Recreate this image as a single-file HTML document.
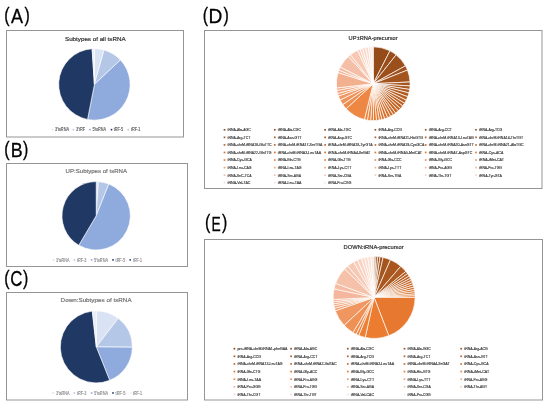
<!DOCTYPE html>
<html lang="en"><head><meta charset="utf-8"><title>tsRNA subtypes and tRNA precursors</title>
<style>html,body{margin:0;padding:0;background:#fff}body{width:550px;height:406px;overflow:hidden}svg{display:block}</style>
</head><body>
<svg width="550" height="406" viewBox="0 0 550 406" font-family="'Liberation Sans', sans-serif">
<rect width="550" height="406" fill="#fff"/>
<g fill="#000" stroke="#000" stroke-width="0.3"><text x="4.30" y="21.60" font-size="19.7" textLength="5.3" lengthAdjust="spacingAndGlyphs">(</text><text x="11.00" y="23.05" font-size="20.8" textLength="12.0" lengthAdjust="spacingAndGlyphs">A</text><text x="24.50" y="21.60" font-size="19.7" textLength="5.3" lengthAdjust="spacingAndGlyphs">)</text></g>
<rect x="6.5" y="30.5" width="177.0" height="106.5" fill="#fff" stroke="#959595" stroke-width="1"/>
<text x="65" y="40.5" font-size="5.9" fill="#333" stroke="#333" stroke-width="0.2" textLength="60.6" lengthAdjust="spacingAndGlyphs">Subtypes of all tsRNA</text>
<g stroke="#fff" stroke-width="0.6" stroke-linejoin="round"><path d="M94.40 84.40L94.40 48.70A35.7 35.7 0 0 1 104.06 50.03Z" fill="#dae3f3"/><path d="M94.40 84.40L104.06 50.03A35.7 35.7 0 0 1 120.42 59.96Z" fill="#b4c7e7"/><path d="M94.40 84.40L120.42 59.96A35.7 35.7 0 0 1 87.53 119.43Z" fill="#8faadc"/><path d="M94.40 84.40L87.53 119.43A35.7 35.7 0 0 1 92.10 48.77Z" fill="#203864"/><path d="M94.40 84.40L92.10 48.77A35.7 35.7 0 0 1 94.40 48.70Z" fill="#e8eef8"/></g>
<rect x="51.80" y="128.85" width="1.6" height="1.6" fill="#dae3f3"/><text x="55.0" y="131.31" font-size="4.6" fill="#595959" stroke="#595959" stroke-width="0.14" textLength="14.0" lengthAdjust="spacingAndGlyphs">3'tsRNA</text>
<rect x="72.60" y="128.85" width="1.6" height="1.6" fill="#b4c7e7"/><text x="76.0" y="131.31" font-size="4.6" fill="#595959" stroke="#595959" stroke-width="0.14" textLength="9.0" lengthAdjust="spacingAndGlyphs">3'tRF</text>
<rect x="89.20" y="128.85" width="1.6" height="1.6" fill="#8faadc"/><text x="92.4" y="131.31" font-size="4.6" fill="#595959" stroke="#595959" stroke-width="0.14" textLength="13.6" lengthAdjust="spacingAndGlyphs">5'tsRNA</text>
<rect x="110.70" y="128.85" width="1.6" height="1.6" fill="#203864"/><text x="113.7" y="131.31" font-size="4.6" fill="#595959" stroke="#595959" stroke-width="0.14" textLength="9.5" lengthAdjust="spacingAndGlyphs">tRF-5</text>
<rect x="127.50" y="128.85" width="1.6" height="1.6" fill="#b4c7e7"/><text x="130.9" y="131.31" font-size="4.6" fill="#595959" stroke="#595959" stroke-width="0.14" textLength="9.5" lengthAdjust="spacingAndGlyphs">tRF-1</text>
<g fill="#000" stroke="#000" stroke-width="0.3"><text x="4.20" y="155.60" font-size="19.7" textLength="5.3" lengthAdjust="spacingAndGlyphs">(</text><text x="10.70" y="156.80" font-size="20.8" textLength="11.9" lengthAdjust="spacingAndGlyphs">B</text><text x="23.00" y="155.60" font-size="19.7" textLength="5.3" lengthAdjust="spacingAndGlyphs">)</text></g>
<rect x="6.5" y="163.5" width="181.0" height="103.0" fill="#fff" stroke="#959595" stroke-width="1"/>
<text x="65.6" y="173.3" font-size="5.9" fill="#757575" stroke="#757575" stroke-width="0.2" textLength="61.4" lengthAdjust="spacingAndGlyphs">UP:Subtypes of tsRNA</text>
<g stroke="#fff" stroke-width="0.6" stroke-linejoin="round"><path d="M96.20 215.80L96.20 181.60A34.2 34.2 0 0 1 98.41 181.67Z" fill="#dae3f3"/><path d="M96.20 215.80L98.41 181.67A34.2 34.2 0 0 1 108.85 184.02Z" fill="#b4c7e7"/><path d="M96.20 215.80L108.85 184.02A34.2 34.2 0 1 1 78.79 245.24Z" fill="#8faadc"/><path d="M96.20 215.80L78.79 245.24A34.2 34.2 0 0 1 96.20 181.60Z" fill="#203864"/></g>
<rect x="52.60" y="259.10" width="1.6" height="1.6" fill="#dae3f3"/><text x="56.0" y="261.56" font-size="4.6" fill="#8a8a8a" stroke="#8a8a8a" stroke-width="0.14" textLength="13.4" lengthAdjust="spacingAndGlyphs">3'tsRNA</text>
<rect x="73.60" y="259.10" width="1.6" height="1.6" fill="#b4c7e7"/><text x="77.0" y="261.56" font-size="4.6" fill="#8a8a8a" stroke="#8a8a8a" stroke-width="0.14" textLength="9.4" lengthAdjust="spacingAndGlyphs">tRF-3</text>
<rect x="90.80" y="259.10" width="1.6" height="1.6" fill="#8faadc"/><text x="94.0" y="261.56" font-size="4.6" fill="#8a8a8a" stroke="#8a8a8a" stroke-width="0.14" textLength="14.0" lengthAdjust="spacingAndGlyphs">5'tsRNA</text>
<rect x="112.20" y="259.10" width="1.6" height="1.6" fill="#203864"/><text x="115.6" y="261.56" font-size="4.6" fill="#8a8a8a" stroke="#8a8a8a" stroke-width="0.14" textLength="9.4" lengthAdjust="spacingAndGlyphs">tRF-5</text>
<rect x="129.40" y="259.10" width="1.6" height="1.6" fill="#2f4a7c"/><text x="133.0" y="261.56" font-size="4.6" fill="#8a8a8a" stroke="#8a8a8a" stroke-width="0.14" textLength="9.0" lengthAdjust="spacingAndGlyphs">tRF-1</text>
<g fill="#000" stroke="#000" stroke-width="0.3"><text x="4.30" y="284.60" font-size="19.7" textLength="5.3" lengthAdjust="spacingAndGlyphs">(</text><text x="10.15" y="286.30" font-size="21.6" textLength="12.2" lengthAdjust="spacingAndGlyphs">C</text><text x="23.00" y="284.60" font-size="19.7" textLength="5.3" lengthAdjust="spacingAndGlyphs">)</text></g>
<rect x="6.5" y="292.5" width="181.0" height="107.5" fill="#fff" stroke="#959595" stroke-width="1"/>
<text x="60.6" y="301.7" font-size="5.9" fill="#757575" stroke="#757575" stroke-width="0.2" textLength="71.0" lengthAdjust="spacingAndGlyphs">Down:Subtypes of tsRNA</text>
<g stroke="#fff" stroke-width="0.6" stroke-linejoin="round"><path d="M96.30 346.90L96.30 310.90A36.0 36.0 0 0 1 118.22 318.34Z" fill="#dae3f3"/><path d="M96.30 346.90L118.22 318.34A36.0 36.0 0 0 1 132.30 347.21Z" fill="#b4c7e7"/><path d="M96.30 346.90L132.30 347.21A36.0 36.0 0 0 1 109.67 380.33Z" fill="#8faadc"/><path d="M96.30 346.90L109.67 380.33A36.0 36.0 0 1 1 92.29 311.12Z" fill="#203864"/><path d="M96.30 346.90L92.29 311.12A36.0 36.0 0 0 1 96.30 310.90Z" fill="#e8eef8"/></g>
<rect x="52.20" y="392.15" width="1.6" height="1.6" fill="#dae3f3"/><text x="56.0" y="394.61" font-size="4.6" fill="#8a8a8a" stroke="#8a8a8a" stroke-width="0.14" textLength="13.4" lengthAdjust="spacingAndGlyphs">3'tsRNA</text>
<rect x="73.60" y="392.15" width="1.6" height="1.6" fill="#b4c7e7"/><text x="77.0" y="394.61" font-size="4.6" fill="#8a8a8a" stroke="#8a8a8a" stroke-width="0.14" textLength="9.4" lengthAdjust="spacingAndGlyphs">tRF-3</text>
<rect x="90.80" y="392.15" width="1.6" height="1.6" fill="#8faadc"/><text x="94.0" y="394.61" font-size="4.6" fill="#8a8a8a" stroke="#8a8a8a" stroke-width="0.14" textLength="14.0" lengthAdjust="spacingAndGlyphs">5'tsRNA</text>
<rect x="112.20" y="392.15" width="1.6" height="1.6" fill="#203864"/><text x="115.6" y="394.61" font-size="4.6" fill="#8a8a8a" stroke="#8a8a8a" stroke-width="0.14" textLength="9.8" lengthAdjust="spacingAndGlyphs">tRF-5</text>
<rect x="130.20" y="392.15" width="1.6" height="1.6" fill="#e8eef8"/><text x="133.0" y="394.61" font-size="4.6" fill="#8a8a8a" stroke="#8a8a8a" stroke-width="0.14" textLength="9.0" lengthAdjust="spacingAndGlyphs">tRF-1</text>
<g fill="#000" stroke="#000" stroke-width="0.3"><text x="202.80" y="21.70" font-size="19.7" textLength="5.3" lengthAdjust="spacingAndGlyphs">(</text><text x="208.60" y="23.20" font-size="20.8" textLength="13.85" lengthAdjust="spacingAndGlyphs">D</text><text x="223.60" y="21.70" font-size="19.7" textLength="5.3" lengthAdjust="spacingAndGlyphs">)</text></g>
<rect x="204.5" y="30.5" width="337.5" height="158.0" fill="#fff" stroke="#959595" stroke-width="1"/>
<text x="348.6" y="39.5" font-size="5.3" fill="#333" stroke="#333" stroke-width="0.2" textLength="49.0" lengthAdjust="spacingAndGlyphs">UP:tRNA-precursor</text>
<g stroke="#fff" stroke-width="0.72" stroke-linejoin="round"><path d="M373.20 83.70L373.20 46.80A36.9 36.9 0 0 1 389.95 50.82Z" fill="#944b19"/><path d="M373.20 83.70L389.95 50.82A36.9 36.9 0 0 1 396.17 54.82Z" fill="#984d1a"/><path d="M373.20 83.70L396.17 54.82A36.9 36.9 0 0 1 405.47 65.81Z" fill="#9b4f1b"/><path d="M373.20 83.70L405.47 65.81A36.9 36.9 0 0 1 407.48 70.06Z" fill="#9f511c"/><path d="M373.20 83.70L407.48 70.06A36.9 36.9 0 0 1 410.06 81.96Z" fill="#a3531d"/><path d="M373.20 83.70L410.06 81.96A36.9 36.9 0 0 1 410.03 85.95Z" fill="#a6551e"/><path d="M373.20 83.70L410.03 85.95A36.9 36.9 0 0 1 409.65 89.47Z" fill="#aa571f"/><path d="M373.20 83.70L409.65 89.47A36.9 36.9 0 0 1 408.92 92.94Z" fill="#ae5920"/><path d="M373.20 83.70L408.92 92.94A36.9 36.9 0 0 1 407.72 96.74Z" fill="#b15c21"/><path d="M373.20 83.70L407.72 96.74A36.9 36.9 0 0 1 406.22 100.16Z" fill="#b55e22"/><path d="M373.20 83.70L406.22 100.16A36.9 36.9 0 0 1 404.49 103.25Z" fill="#b96023"/><path d="M373.20 83.70L404.49 103.25A36.9 36.9 0 0 1 402.67 105.91Z" fill="#bc6224"/><path d="M373.20 83.70L402.67 105.91A36.9 36.9 0 0 1 400.49 108.53Z" fill="#c06425"/><path d="M373.20 83.70L400.49 108.53A36.9 36.9 0 0 1 398.27 110.77Z" fill="#c46626"/><path d="M373.20 83.70L398.27 110.77A36.9 36.9 0 0 1 395.61 113.01Z" fill="#c76827"/><path d="M373.20 83.70L395.61 113.01A36.9 36.9 0 0 1 393.19 114.72Z" fill="#cb6a28"/><path d="M373.20 83.70L393.19 114.72A36.9 36.9 0 0 1 390.52 116.28Z" fill="#cf6c29"/><path d="M373.20 83.70L390.52 116.28A36.9 36.9 0 0 1 387.62 117.67Z" fill="#d36e2a"/><path d="M373.20 83.70L387.62 117.67A36.9 36.9 0 0 1 384.60 118.79Z" fill="#d6702b"/><path d="M373.20 83.70L384.60 118.79A36.9 36.9 0 0 1 381.81 119.58Z" fill="#da722c"/><path d="M373.20 83.70L381.81 119.58A36.9 36.9 0 0 1 379.23 120.10Z" fill="#de742d"/><path d="M373.20 83.70L379.23 120.10A36.9 36.9 0 0 1 376.42 120.46Z" fill="#e1762e"/><path d="M373.20 83.70L376.42 120.46A36.9 36.9 0 0 1 373.52 120.60Z" fill="#e5782f"/><path d="M373.20 83.70L373.52 120.60A36.9 36.9 0 0 1 370.63 120.51Z" fill="#e97b30"/><path d="M373.20 83.70L370.63 120.51A36.9 36.9 0 0 1 367.43 120.15Z" fill="#ec7d31"/><path d="M373.20 83.70L367.43 120.15A36.9 36.9 0 0 1 364.40 119.53Z" fill="#ee823a"/><path d="M373.20 83.70L364.40 119.53A36.9 36.9 0 0 1 346.13 108.77Z" fill="#ee8744"/><path d="M373.20 83.70L346.13 108.77A36.9 36.9 0 0 1 342.79 104.60Z" fill="#ef8d4f"/><path d="M373.20 83.70L342.79 104.60A36.9 36.9 0 0 1 340.12 100.05Z" fill="#f0935a"/><path d="M373.20 83.70L340.12 100.05A36.9 36.9 0 0 1 338.42 96.02Z" fill="#f09964"/><path d="M373.20 83.70L338.42 96.02A36.9 36.9 0 0 1 337.61 93.44Z" fill="#f19e6f"/><path d="M373.20 83.70L337.61 93.44A36.9 36.9 0 0 1 336.92 90.42Z" fill="#f2a47a"/><path d="M373.20 83.70L336.92 90.42A36.9 36.9 0 0 1 336.54 87.94Z" fill="#f3aa85"/><path d="M373.20 83.70L336.54 87.94A36.9 36.9 0 0 1 338.01 72.60Z" fill="#f3b08f"/><path d="M373.20 83.70L338.01 72.60A36.9 36.9 0 0 1 338.89 70.12Z" fill="#f4b59a"/><path d="M373.20 83.70L338.89 70.12A36.9 36.9 0 0 1 340.26 67.06Z" fill="#f5baa1"/><path d="M373.20 83.70L340.26 67.06A36.9 36.9 0 0 1 348.37 56.41Z" fill="#f5bfa7"/><path d="M373.20 83.70L348.37 56.41A36.9 36.9 0 0 1 350.43 54.66Z" fill="#f6c4ae"/><path d="M373.20 83.70L350.43 54.66A36.9 36.9 0 0 1 357.55 50.28Z" fill="#f7c9b5"/><path d="M373.20 83.70L357.55 50.28A36.9 36.9 0 0 1 360.10 49.20Z" fill="#f7cebb"/><path d="M373.20 83.70L360.10 49.20A36.9 36.9 0 0 1 362.53 48.37Z" fill="#f8d3c2"/><path d="M373.20 83.70L362.53 48.37A36.9 36.9 0 0 1 365.47 47.62Z" fill="#f9d7c8"/><path d="M373.20 83.70L365.47 47.62A36.9 36.9 0 0 1 368.45 47.11Z" fill="#fadccf"/><path d="M373.20 83.70L368.45 47.11A36.9 36.9 0 0 1 370.95 46.87Z" fill="#fae1d5"/><path d="M373.20 83.70L370.95 46.87A36.9 36.9 0 0 1 373.20 46.80Z" fill="#fbe6dc"/></g>
<rect x="223.65" y="128.95" width="1.7" height="1.7" fill="#944b19"/><text x="227.5" y="131.20" font-size="3.9" fill="#404040" stroke="#404040" stroke-width="0.17" textLength="23.2" lengthAdjust="spacingAndGlyphs">tRNA-Ala-AGC</text>
<rect x="273.95" y="128.95" width="1.7" height="1.7" fill="#984d1a"/><text x="277.8" y="131.20" font-size="3.9" fill="#404040" stroke="#404040" stroke-width="0.17" textLength="23.2" lengthAdjust="spacingAndGlyphs">tRNA-Ala-CGC</text>
<rect x="324.25" y="128.95" width="1.7" height="1.7" fill="#9b4f1b"/><text x="328.1" y="131.20" font-size="3.9" fill="#404040" stroke="#404040" stroke-width="0.17" textLength="22.9" lengthAdjust="spacingAndGlyphs">tRNA-Ala-TGC</text>
<rect x="374.55" y="128.95" width="1.7" height="1.7" fill="#9f511c"/><text x="378.4" y="131.20" font-size="3.9" fill="#404040" stroke="#404040" stroke-width="0.17" textLength="23.6" lengthAdjust="spacingAndGlyphs">tRNA-Arg-CCG</text>
<rect x="424.85" y="128.95" width="1.7" height="1.7" fill="#a3531d"/><text x="428.7" y="131.20" font-size="3.9" fill="#404040" stroke="#404040" stroke-width="0.17" textLength="23.2" lengthAdjust="spacingAndGlyphs">tRNA-Arg-CCT</text>
<rect x="475.15" y="128.95" width="1.7" height="1.7" fill="#a6551e"/><text x="479.0" y="131.20" font-size="3.9" fill="#404040" stroke="#404040" stroke-width="0.17" textLength="23.2" lengthAdjust="spacingAndGlyphs">tRNA-Arg-TCG</text>
<rect x="223.65" y="136.51" width="1.7" height="1.7" fill="#aa571f"/><text x="227.5" y="138.76" font-size="3.9" fill="#404040" stroke="#404040" stroke-width="0.17" textLength="22.9" lengthAdjust="spacingAndGlyphs">tRNA-Arg-TCT</text>
<rect x="273.95" y="136.51" width="1.7" height="1.7" fill="#ae5920"/><text x="277.8" y="138.76" font-size="3.9" fill="#404040" stroke="#404040" stroke-width="0.17" textLength="23.7" lengthAdjust="spacingAndGlyphs">tRNA-Asn-GTT</text>
<rect x="324.25" y="136.51" width="1.7" height="1.7" fill="#b15c21"/><text x="328.1" y="138.76" font-size="3.9" fill="#404040" stroke="#404040" stroke-width="0.17" textLength="24.0" lengthAdjust="spacingAndGlyphs">tRNA-Asp-GTC</text>
<rect x="374.55" y="136.51" width="1.7" height="1.7" fill="#b55e22"/><text x="378.4" y="138.76" font-size="3.9" fill="#404040" stroke="#404040" stroke-width="0.17" textLength="44.5" lengthAdjust="spacingAndGlyphs">tRNA-chrM.tRNA11-HisGTG</text>
<rect x="424.85" y="136.51" width="1.7" height="1.7" fill="#b96023"/><text x="428.7" y="138.76" font-size="3.9" fill="#404040" stroke="#404040" stroke-width="0.17" textLength="45.2" lengthAdjust="spacingAndGlyphs">tRNA-chrM.tRNA13-LeuTAG</text>
<rect x="475.15" y="136.51" width="1.7" height="1.7" fill="#bc6224"/><text x="479.0" y="138.76" font-size="3.9" fill="#404040" stroke="#404040" stroke-width="0.17" textLength="44.1" lengthAdjust="spacingAndGlyphs">tRNA-chrM.tRNA14-ThrTGT</text>
<rect x="223.65" y="144.07" width="1.7" height="1.7" fill="#c06425"/><text x="227.5" y="146.32" font-size="3.9" fill="#404040" stroke="#404040" stroke-width="0.17" textLength="44.1" lengthAdjust="spacingAndGlyphs">tRNA-chrM.tRNA16-GluTTC</text>
<rect x="273.95" y="144.07" width="1.7" height="1.7" fill="#c46626"/><text x="277.8" y="146.32" font-size="3.9" fill="#404040" stroke="#404040" stroke-width="0.17" textLength="44.5" lengthAdjust="spacingAndGlyphs">tRNA-chrM.tRNA17-SerTGA</text>
<rect x="324.25" y="144.07" width="1.7" height="1.7" fill="#c76827"/><text x="328.1" y="146.32" font-size="3.9" fill="#404040" stroke="#404040" stroke-width="0.17" textLength="44.5" lengthAdjust="spacingAndGlyphs">tRNA-chrM.tRNA18-TyrGTA</text>
<rect x="374.55" y="144.07" width="1.7" height="1.7" fill="#cb6a28"/><text x="378.4" y="146.32" font-size="3.9" fill="#404040" stroke="#404040" stroke-width="0.17" textLength="45.9" lengthAdjust="spacingAndGlyphs">tRNA-chrM.tRNA19-CysGCA</text>
<rect x="424.85" y="144.07" width="1.7" height="1.7" fill="#cf6c29"/><text x="428.7" y="146.32" font-size="3.9" fill="#404040" stroke="#404040" stroke-width="0.17" textLength="45.2" lengthAdjust="spacingAndGlyphs">tRNA-chrM.tRNA20-AsnGTT</text>
<rect x="475.15" y="144.07" width="1.7" height="1.7" fill="#d36e2a"/><text x="479.0" y="146.32" font-size="3.9" fill="#404040" stroke="#404040" stroke-width="0.17" textLength="44.5" lengthAdjust="spacingAndGlyphs">tRNA-chrM.tRNA21-AlaTGC</text>
<rect x="223.65" y="151.63" width="1.7" height="1.7" fill="#d6702b"/><text x="227.5" y="153.88" font-size="3.9" fill="#404040" stroke="#404040" stroke-width="0.17" textLength="44.1" lengthAdjust="spacingAndGlyphs">tRNA-chrM.tRNA22-GlnTTG</text>
<rect x="273.95" y="151.63" width="1.7" height="1.7" fill="#da722c"/><text x="277.8" y="153.88" font-size="3.9" fill="#404040" stroke="#404040" stroke-width="0.17" textLength="43.3" lengthAdjust="spacingAndGlyphs">tRNA-chrM.tRNA3-LeuTAA</text>
<rect x="324.25" y="151.63" width="1.7" height="1.7" fill="#de742d"/><text x="328.1" y="153.88" font-size="3.9" fill="#404040" stroke="#404040" stroke-width="0.17" textLength="42.2" lengthAdjust="spacingAndGlyphs">tRNA-chrM.tRNA4-IleGAT</text>
<rect x="374.55" y="151.63" width="1.7" height="1.7" fill="#e1762e"/><text x="378.4" y="153.88" font-size="3.9" fill="#404040" stroke="#404040" stroke-width="0.17" textLength="43.7" lengthAdjust="spacingAndGlyphs">tRNA-chrM.tRNA5-MetCAT</text>
<rect x="424.85" y="151.63" width="1.7" height="1.7" fill="#e5782f"/><text x="428.7" y="153.88" font-size="3.9" fill="#404040" stroke="#404040" stroke-width="0.17" textLength="43.6" lengthAdjust="spacingAndGlyphs">tRNA-chrM.tRNA7-AspGTC</text>
<rect x="475.15" y="151.63" width="1.7" height="1.7" fill="#e97b30"/><text x="479.0" y="153.88" font-size="3.9" fill="#404040" stroke="#404040" stroke-width="0.17" textLength="24.3" lengthAdjust="spacingAndGlyphs">tRNA-Cys-ACA</text>
<rect x="223.65" y="159.19" width="1.7" height="1.7" fill="#ec7d31"/><text x="227.5" y="161.44" font-size="3.9" fill="#404040" stroke="#404040" stroke-width="0.17" textLength="24.3" lengthAdjust="spacingAndGlyphs">tRNA-Cys-GCA</text>
<rect x="273.95" y="159.19" width="1.7" height="1.7" fill="#ee823a"/><text x="277.8" y="161.44" font-size="3.9" fill="#404040" stroke="#404040" stroke-width="0.17" textLength="22.9" lengthAdjust="spacingAndGlyphs">tRNA-Gln-CTG</text>
<rect x="324.25" y="159.19" width="1.7" height="1.7" fill="#ee8744"/><text x="328.1" y="161.44" font-size="3.9" fill="#404040" stroke="#404040" stroke-width="0.17" textLength="22.6" lengthAdjust="spacingAndGlyphs">tRNA-Gln-TTG</text>
<rect x="374.55" y="159.19" width="1.7" height="1.7" fill="#ef8d4f"/><text x="378.4" y="161.44" font-size="3.9" fill="#404040" stroke="#404040" stroke-width="0.17" textLength="23.2" lengthAdjust="spacingAndGlyphs">tRNA-Glu-CCC</text>
<rect x="424.85" y="159.19" width="1.7" height="1.7" fill="#f0935a"/><text x="428.7" y="161.44" font-size="3.9" fill="#404040" stroke="#404040" stroke-width="0.17" textLength="23.2" lengthAdjust="spacingAndGlyphs">tRNA-Gly-GCC</text>
<rect x="475.15" y="159.19" width="1.7" height="1.7" fill="#f09964"/><text x="479.0" y="161.44" font-size="3.9" fill="#404040" stroke="#404040" stroke-width="0.17" textLength="25.0" lengthAdjust="spacingAndGlyphs">tRNA-iMet-CAT</text>
<rect x="223.65" y="166.75" width="1.7" height="1.7" fill="#f19e6f"/><text x="227.5" y="169.00" font-size="3.9" fill="#404040" stroke="#404040" stroke-width="0.17" textLength="24.0" lengthAdjust="spacingAndGlyphs">tRNA-Leu-CAG</text>
<rect x="273.95" y="166.75" width="1.7" height="1.7" fill="#f2a47a"/><text x="277.8" y="169.00" font-size="3.9" fill="#404040" stroke="#404040" stroke-width="0.17" textLength="23.7" lengthAdjust="spacingAndGlyphs">tRNA-Leu-TAG</text>
<rect x="324.25" y="166.75" width="1.7" height="1.7" fill="#f3aa85"/><text x="328.1" y="169.00" font-size="3.9" fill="#404040" stroke="#404040" stroke-width="0.17" textLength="23.3" lengthAdjust="spacingAndGlyphs">tRNA-Lys-CTT</text>
<rect x="374.55" y="166.75" width="1.7" height="1.7" fill="#f3b08f"/><text x="378.4" y="169.00" font-size="3.9" fill="#404040" stroke="#404040" stroke-width="0.17" textLength="23.0" lengthAdjust="spacingAndGlyphs">tRNA-Lys-TTT</text>
<rect x="424.85" y="166.75" width="1.7" height="1.7" fill="#f4b59a"/><text x="428.7" y="169.00" font-size="3.9" fill="#404040" stroke="#404040" stroke-width="0.17" textLength="23.2" lengthAdjust="spacingAndGlyphs">tRNA-Pro-AGG</text>
<rect x="475.15" y="166.75" width="1.7" height="1.7" fill="#f5baa1"/><text x="479.0" y="169.00" font-size="3.9" fill="#404040" stroke="#404040" stroke-width="0.17" textLength="22.9" lengthAdjust="spacingAndGlyphs">tRNA-Pro-TGG</text>
<rect x="223.65" y="174.31" width="1.7" height="1.7" fill="#f5bfa7"/><text x="227.5" y="176.56" font-size="3.9" fill="#404040" stroke="#404040" stroke-width="0.17" textLength="24.0" lengthAdjust="spacingAndGlyphs">tRNA-SeC-TCA</text>
<rect x="273.95" y="174.31" width="1.7" height="1.7" fill="#f6c4ae"/><text x="277.8" y="176.56" font-size="3.9" fill="#404040" stroke="#404040" stroke-width="0.17" textLength="23.2" lengthAdjust="spacingAndGlyphs">tRNA-Ser-AGA</text>
<rect x="324.25" y="174.31" width="1.7" height="1.7" fill="#f7c9b5"/><text x="328.1" y="176.56" font-size="3.9" fill="#404040" stroke="#404040" stroke-width="0.17" textLength="23.2" lengthAdjust="spacingAndGlyphs">tRNA-Ser-CGA</text>
<rect x="374.55" y="174.31" width="1.7" height="1.7" fill="#f7cebb"/><text x="378.4" y="176.56" font-size="3.9" fill="#404040" stroke="#404040" stroke-width="0.17" textLength="22.9" lengthAdjust="spacingAndGlyphs">tRNA-Ser-TGA</text>
<rect x="424.85" y="174.31" width="1.7" height="1.7" fill="#f8d3c2"/><text x="428.7" y="176.56" font-size="3.9" fill="#404040" stroke="#404040" stroke-width="0.17" textLength="22.6" lengthAdjust="spacingAndGlyphs">tRNA-Thr-TGT</text>
<rect x="475.15" y="174.31" width="1.7" height="1.7" fill="#f9d7c8"/><text x="479.0" y="176.56" font-size="3.9" fill="#404040" stroke="#404040" stroke-width="0.17" textLength="22.9" lengthAdjust="spacingAndGlyphs">tRNA-Tyr-GTA</text>
<rect x="223.65" y="181.87" width="1.7" height="1.7" fill="#fadccf"/><text x="227.5" y="184.12" font-size="3.9" fill="#404040" stroke="#404040" stroke-width="0.17" textLength="22.9" lengthAdjust="spacingAndGlyphs">tRNA-Val-TAC</text>
<rect x="273.95" y="181.87" width="1.7" height="1.7" fill="#fae1d5"/><text x="277.8" y="184.12" font-size="3.9" fill="#404040" stroke="#404040" stroke-width="0.17" textLength="23.7" lengthAdjust="spacingAndGlyphs">tRNA-Leu-TAA</text>
<rect x="324.25" y="181.87" width="1.7" height="1.7" fill="#fbe6dc"/><text x="328.1" y="184.12" font-size="3.9" fill="#404040" stroke="#404040" stroke-width="0.17" textLength="23.2" lengthAdjust="spacingAndGlyphs">tRNA-Pro-CGG</text>
<g fill="#000" stroke="#000" stroke-width="0.3"><text x="205.00" y="229.10" font-size="19.7" textLength="5.3" lengthAdjust="spacingAndGlyphs">(</text><text x="211.50" y="230.80" font-size="20.8" textLength="9.2" lengthAdjust="spacingAndGlyphs">E</text><text x="222.10" y="229.10" font-size="19.7" textLength="5.3" lengthAdjust="spacingAndGlyphs">)</text></g>
<rect x="204.5" y="239.5" width="338.0" height="160.5" fill="#fff" stroke="#959595" stroke-width="1"/>
<text x="343.6" y="248.7" font-size="5.3" fill="#333" stroke="#333" stroke-width="0.2" textLength="60.0" lengthAdjust="spacingAndGlyphs">DOWN:tRNA-precursor</text>
<g stroke="#fff" stroke-width="0.68" stroke-linejoin="round"><path d="M374.10 297.40L374.10 256.40A41.0 41.0 0 0 1 375.89 256.44Z" fill="#944b19"/><path d="M374.10 297.40L375.89 256.44A41.0 41.0 0 0 1 377.74 256.56Z" fill="#984d1a"/><path d="M374.10 297.40L377.74 256.56A41.0 41.0 0 0 1 380.02 256.83Z" fill="#9d501b"/><path d="M374.10 297.40L380.02 256.83A41.0 41.0 0 0 1 383.11 257.40Z" fill="#a1521d"/><path d="M374.10 297.40L383.11 257.40A41.0 41.0 0 0 1 390.45 259.80Z" fill="#a5551e"/><path d="M374.10 297.40L390.45 259.80A41.0 41.0 0 0 1 400.78 266.27Z" fill="#aa571f"/><path d="M374.10 297.40L400.78 266.27A41.0 41.0 0 0 1 405.83 271.43Z" fill="#ae5a20"/><path d="M374.10 297.40L405.83 271.43A41.0 41.0 0 0 1 407.52 273.65Z" fill="#b25c21"/><path d="M374.10 297.40L407.52 273.65A41.0 41.0 0 0 1 409.10 276.04Z" fill="#b75f22"/><path d="M374.10 297.40L409.10 276.04A41.0 41.0 0 0 1 410.37 278.28Z" fill="#bb6124"/><path d="M374.10 297.40L410.37 278.28A41.0 41.0 0 0 1 411.41 280.40Z" fill="#bf6325"/><path d="M374.10 297.40L411.41 280.40A41.0 41.0 0 0 1 412.38 282.71Z" fill="#c46626"/><path d="M374.10 297.40L412.38 282.71A41.0 41.0 0 0 1 413.16 284.93Z" fill="#c86827"/><path d="M374.10 297.40L413.16 284.93A41.0 41.0 0 0 1 413.81 287.20Z" fill="#cc6b28"/><path d="M374.10 297.40L413.81 287.20A41.0 41.0 0 0 1 414.33 289.51Z" fill="#d16d29"/><path d="M374.10 297.40L414.33 289.51A41.0 41.0 0 0 1 414.70 291.69Z" fill="#d5702b"/><path d="M374.10 297.40L414.70 291.69A41.0 41.0 0 0 1 414.95 293.90Z" fill="#d9722c"/><path d="M374.10 297.40L414.95 293.90A41.0 41.0 0 0 1 415.07 295.75Z" fill="#de742d"/><path d="M374.10 297.40L415.07 295.75A41.0 41.0 0 0 1 415.10 297.40Z" fill="#e2772e"/><path d="M374.10 297.40L415.10 297.40A41.0 41.0 0 0 1 388.79 335.68Z" fill="#e6792f"/><path d="M374.10 297.40L388.79 335.68A41.0 41.0 0 0 1 365.23 337.43Z" fill="#eb7c30"/><path d="M374.10 297.40L365.23 337.43A41.0 41.0 0 0 1 358.74 335.41Z" fill="#ed8036"/><path d="M374.10 297.40L358.74 335.41A41.0 41.0 0 0 1 356.13 334.25Z" fill="#ee8541"/><path d="M374.10 297.40L356.13 334.25A41.0 41.0 0 0 1 352.98 332.54Z" fill="#ef8b4b"/><path d="M374.10 297.40L352.98 332.54A41.0 41.0 0 0 1 344.11 325.36Z" fill="#ef9055"/><path d="M374.10 297.40L344.11 325.36A41.0 41.0 0 0 1 335.33 310.75Z" fill="#f09660"/><path d="M374.10 297.40L335.33 310.75A41.0 41.0 0 0 1 334.57 308.29Z" fill="#f19c6a"/><path d="M374.10 297.40L334.57 308.29A41.0 41.0 0 0 1 334.00 305.92Z" fill="#f1a174"/><path d="M374.10 297.40L334.00 305.92A41.0 41.0 0 0 1 333.60 303.81Z" fill="#f2a77f"/><path d="M374.10 297.40L333.60 303.81A41.0 41.0 0 0 1 333.32 301.69Z" fill="#f3ac89"/><path d="M374.10 297.40L333.32 301.69A41.0 41.0 0 0 1 333.16 299.55Z" fill="#f3b293"/><path d="M374.10 297.40L333.16 299.55A41.0 41.0 0 0 1 334.00 288.88Z" fill="#f4b79d"/><path d="M374.10 297.40L334.00 288.88A41.0 41.0 0 0 1 335.57 283.38Z" fill="#f5bca3"/><path d="M374.10 297.40L335.57 283.38A41.0 41.0 0 0 1 344.61 268.92Z" fill="#f6c1a9"/><path d="M374.10 297.40L344.61 268.92A41.0 41.0 0 0 1 347.75 265.99Z" fill="#f6c5b0"/><path d="M374.10 297.40L347.75 265.99A41.0 41.0 0 0 1 353.60 261.89Z" fill="#f7cab6"/><path d="M374.10 297.40L353.60 261.89A41.0 41.0 0 0 1 357.42 259.94Z" fill="#f8cfbc"/><path d="M374.10 297.40L357.42 259.94A41.0 41.0 0 0 1 361.43 258.41Z" fill="#f8d3c3"/><path d="M374.10 297.40L361.43 258.41A41.0 41.0 0 0 1 364.53 257.53Z" fill="#f9d8c9"/><path d="M374.10 297.40L364.53 257.53A41.0 41.0 0 0 1 367.69 256.90Z" fill="#faddcf"/><path d="M374.10 297.40L367.69 256.90A41.0 41.0 0 0 1 370.88 256.53Z" fill="#fae1d6"/><path d="M374.10 297.40L370.88 256.53A41.0 41.0 0 0 1 374.10 256.40Z" fill="#fbe6dc"/></g>
<rect x="233.55" y="347.85" width="1.7" height="1.7" fill="#944b19"/><text x="237.4" y="350.10" font-size="3.9" fill="#404040" stroke="#404040" stroke-width="0.17" textLength="50.1" lengthAdjust="spacingAndGlyphs">pre-tRNA-chrM.tRNA1-pheGAA</text>
<rect x="290.25" y="347.85" width="1.7" height="1.7" fill="#994e1a"/><text x="294.1" y="350.10" font-size="3.9" fill="#404040" stroke="#404040" stroke-width="0.17" textLength="23.2" lengthAdjust="spacingAndGlyphs">tRNA-Ala-AGC</text>
<rect x="346.95" y="347.85" width="1.7" height="1.7" fill="#9e511c"/><text x="350.8" y="350.10" font-size="3.9" fill="#404040" stroke="#404040" stroke-width="0.17" textLength="23.2" lengthAdjust="spacingAndGlyphs">tRNA-Ala-CGC</text>
<rect x="403.65" y="347.85" width="1.7" height="1.7" fill="#a3531d"/><text x="407.5" y="350.10" font-size="3.9" fill="#404040" stroke="#404040" stroke-width="0.17" textLength="23.2" lengthAdjust="spacingAndGlyphs">tRNA-Ala-GGC</text>
<rect x="460.35" y="347.85" width="1.7" height="1.7" fill="#a8561e"/><text x="464.2" y="350.10" font-size="3.9" fill="#404040" stroke="#404040" stroke-width="0.17" textLength="23.6" lengthAdjust="spacingAndGlyphs">tRNA-Arg-ACG</text>
<rect x="233.55" y="355.47" width="1.7" height="1.7" fill="#ad5920"/><text x="237.4" y="357.72" font-size="3.9" fill="#404040" stroke="#404040" stroke-width="0.17" textLength="23.6" lengthAdjust="spacingAndGlyphs">tRNA-Arg-CCG</text>
<rect x="290.25" y="355.47" width="1.7" height="1.7" fill="#b15c21"/><text x="294.1" y="357.72" font-size="3.9" fill="#404040" stroke="#404040" stroke-width="0.17" textLength="23.2" lengthAdjust="spacingAndGlyphs">tRNA-Arg-CCT</text>
<rect x="346.95" y="355.47" width="1.7" height="1.7" fill="#b65e22"/><text x="350.8" y="357.72" font-size="3.9" fill="#404040" stroke="#404040" stroke-width="0.17" textLength="23.2" lengthAdjust="spacingAndGlyphs">tRNA-Arg-TCG</text>
<rect x="403.65" y="355.47" width="1.7" height="1.7" fill="#bb6124"/><text x="407.5" y="357.72" font-size="3.9" fill="#404040" stroke="#404040" stroke-width="0.17" textLength="22.9" lengthAdjust="spacingAndGlyphs">tRNA-Arg-TCT</text>
<rect x="460.35" y="355.47" width="1.7" height="1.7" fill="#c06425"/><text x="464.2" y="357.72" font-size="3.9" fill="#404040" stroke="#404040" stroke-width="0.17" textLength="23.7" lengthAdjust="spacingAndGlyphs">tRNA-Asn-GTT</text>
<rect x="233.55" y="363.09" width="1.7" height="1.7" fill="#c56726"/><text x="237.4" y="365.34" font-size="3.9" fill="#404040" stroke="#404040" stroke-width="0.17" textLength="45.2" lengthAdjust="spacingAndGlyphs">tRNA-chrM.tRNA13-LeuTAG</text>
<rect x="290.25" y="363.09" width="1.7" height="1.7" fill="#ca6928"/><text x="294.1" y="365.34" font-size="3.9" fill="#404040" stroke="#404040" stroke-width="0.17" textLength="42.5" lengthAdjust="spacingAndGlyphs">tRNA-chrM.tRNA2-ValTAC</text>
<rect x="346.95" y="363.09" width="1.7" height="1.7" fill="#cf6c29"/><text x="350.8" y="365.34" font-size="3.9" fill="#404040" stroke="#404040" stroke-width="0.17" textLength="43.3" lengthAdjust="spacingAndGlyphs">tRNA-chrM.tRNA3-LeuTAA</text>
<rect x="403.65" y="363.09" width="1.7" height="1.7" fill="#d46f2a"/><text x="407.5" y="365.34" font-size="3.9" fill="#404040" stroke="#404040" stroke-width="0.17" textLength="42.2" lengthAdjust="spacingAndGlyphs">tRNA-chrM.tRNA4-IleGAT</text>
<rect x="460.35" y="363.09" width="1.7" height="1.7" fill="#d9722c"/><text x="464.2" y="365.34" font-size="3.9" fill="#404040" stroke="#404040" stroke-width="0.17" textLength="24.3" lengthAdjust="spacingAndGlyphs">tRNA-Cys-GCA</text>
<rect x="233.55" y="370.71" width="1.7" height="1.7" fill="#de742d"/><text x="237.4" y="372.96" font-size="3.9" fill="#404040" stroke="#404040" stroke-width="0.17" textLength="22.9" lengthAdjust="spacingAndGlyphs">tRNA-Gln-CTG</text>
<rect x="290.25" y="370.71" width="1.7" height="1.7" fill="#e2772e"/><text x="294.1" y="372.96" font-size="3.9" fill="#404040" stroke="#404040" stroke-width="0.17" textLength="23.2" lengthAdjust="spacingAndGlyphs">tRNA-Gly-ACC</text>
<rect x="346.95" y="370.71" width="1.7" height="1.7" fill="#e77a2f"/><text x="350.8" y="372.96" font-size="3.9" fill="#404040" stroke="#404040" stroke-width="0.17" textLength="23.2" lengthAdjust="spacingAndGlyphs">tRNA-Gly-GCC</text>
<rect x="403.65" y="370.71" width="1.7" height="1.7" fill="#ec7d31"/><text x="407.5" y="372.96" font-size="3.9" fill="#404040" stroke="#404040" stroke-width="0.17" textLength="22.9" lengthAdjust="spacingAndGlyphs">tRNA-His-GTG</text>
<rect x="460.35" y="370.71" width="1.7" height="1.7" fill="#ee843d"/><text x="464.2" y="372.96" font-size="3.9" fill="#404040" stroke="#404040" stroke-width="0.17" textLength="25.0" lengthAdjust="spacingAndGlyphs">tRNA-iMet-CAT</text>
<rect x="233.55" y="378.33" width="1.7" height="1.7" fill="#ef8b4b"/><text x="237.4" y="380.58" font-size="3.9" fill="#404040" stroke="#404040" stroke-width="0.17" textLength="23.7" lengthAdjust="spacingAndGlyphs">tRNA-Leu-TAA</text>
<rect x="290.25" y="378.33" width="1.7" height="1.7" fill="#f0935a"/><text x="294.1" y="380.58" font-size="3.9" fill="#404040" stroke="#404040" stroke-width="0.17" textLength="23.2" lengthAdjust="spacingAndGlyphs">tRNA-Pro-AGG</text>
<rect x="346.95" y="378.33" width="1.7" height="1.7" fill="#f19b68"/><text x="350.8" y="380.58" font-size="3.9" fill="#404040" stroke="#404040" stroke-width="0.17" textLength="23.3" lengthAdjust="spacingAndGlyphs">tRNA-Lys-CTT</text>
<rect x="403.65" y="378.33" width="1.7" height="1.7" fill="#f2a276"/><text x="407.5" y="380.58" font-size="3.9" fill="#404040" stroke="#404040" stroke-width="0.17" textLength="23.0" lengthAdjust="spacingAndGlyphs">tRNA-Lys-TTT</text>
<rect x="460.35" y="378.33" width="1.7" height="1.7" fill="#f3aa85"/><text x="464.2" y="380.58" font-size="3.9" fill="#404040" stroke="#404040" stroke-width="0.17" textLength="23.2" lengthAdjust="spacingAndGlyphs">tRNA-Pro-AGG</text>
<rect x="233.55" y="385.95" width="1.7" height="1.7" fill="#f3b293"/><text x="237.4" y="388.20" font-size="3.9" fill="#404040" stroke="#404040" stroke-width="0.17" textLength="23.2" lengthAdjust="spacingAndGlyphs">tRNA-Pro-GGG</text>
<rect x="290.25" y="385.95" width="1.7" height="1.7" fill="#f4b99f"/><text x="294.1" y="388.20" font-size="3.9" fill="#404040" stroke="#404040" stroke-width="0.17" textLength="22.9" lengthAdjust="spacingAndGlyphs">tRNA-Pro-TGG</text>
<rect x="346.95" y="385.95" width="1.7" height="1.7" fill="#f5bfa7"/><text x="350.8" y="388.20" font-size="3.9" fill="#404040" stroke="#404040" stroke-width="0.17" textLength="23.2" lengthAdjust="spacingAndGlyphs">tRNA-Ser-AGA</text>
<rect x="403.65" y="385.95" width="1.7" height="1.7" fill="#f6c6b0"/><text x="407.5" y="388.20" font-size="3.9" fill="#404040" stroke="#404040" stroke-width="0.17" textLength="23.2" lengthAdjust="spacingAndGlyphs">tRNA-Ser-CGA</text>
<rect x="460.35" y="385.95" width="1.7" height="1.7" fill="#f7ccb9"/><text x="464.2" y="388.20" font-size="3.9" fill="#404040" stroke="#404040" stroke-width="0.17" textLength="22.9" lengthAdjust="spacingAndGlyphs">tRNA-Thr-AGT</text>
<rect x="233.55" y="393.57" width="1.7" height="1.7" fill="#f8d3c2"/><text x="237.4" y="395.82" font-size="3.9" fill="#404040" stroke="#404040" stroke-width="0.17" textLength="22.9" lengthAdjust="spacingAndGlyphs">tRNA-Thr-CGT</text>
<rect x="290.25" y="393.57" width="1.7" height="1.7" fill="#f9d9ca"/><text x="294.1" y="395.82" font-size="3.9" fill="#404040" stroke="#404040" stroke-width="0.17" textLength="22.6" lengthAdjust="spacingAndGlyphs">tRNA-Thr-TGT</text>
<rect x="346.95" y="393.57" width="1.7" height="1.7" fill="#fae0d3"/><text x="350.8" y="395.82" font-size="3.9" fill="#404040" stroke="#404040" stroke-width="0.17" textLength="23.2" lengthAdjust="spacingAndGlyphs">tRNA-Val-CAC</text>
<rect x="403.65" y="393.57" width="1.7" height="1.7" fill="#fbe6dc"/><text x="407.5" y="395.82" font-size="3.9" fill="#404040" stroke="#404040" stroke-width="0.17" textLength="23.2" lengthAdjust="spacingAndGlyphs">tRNA-Pro-CGG</text>
</svg>
</body></html>
